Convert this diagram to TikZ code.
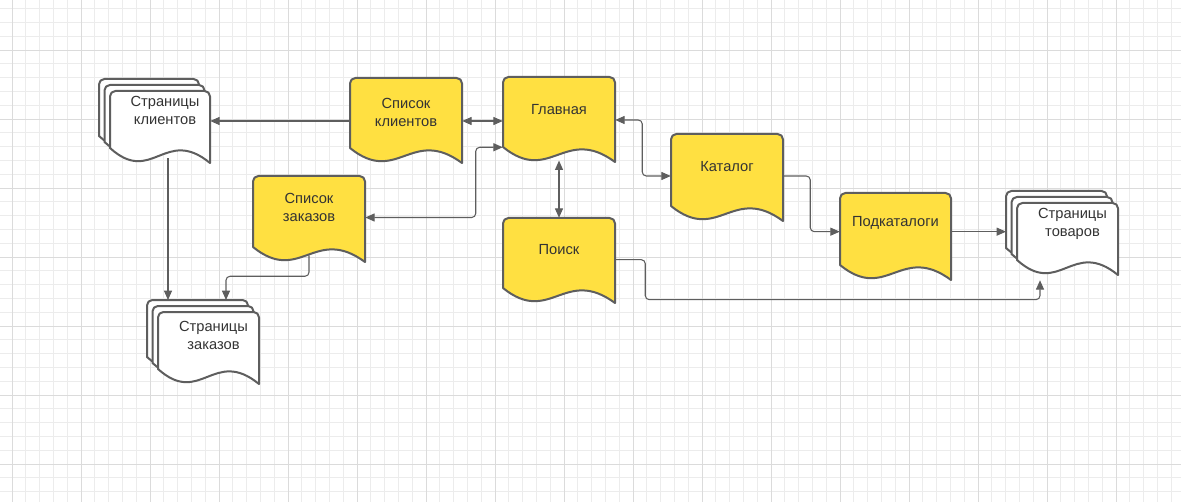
\documentclass[tikz,border=0pt]{standalone}
\usepackage{fontspec}
\setmainfont{Liberation Sans}
\usetikzlibrary{arrows.meta,calc}
\definecolor{yel}{HTML}{FFE041}
\definecolor{edge}{HTML}{5E5E5E}
\definecolor{txt}{HTML}{333333}
\tikzset{
  shp/.style={draw=edge,line width=1.5pt,line join=round},
  lbl/.style={inner sep=0pt,align=center,text=txt,font=\fontsize{11}{13.5}\selectfont},
  con/.style={draw=edge,line width=0.8pt,rounded corners=3pt},
  arr/.style={con,-{Triangle[length=7pt,width=6pt]}},
  biarr/.style={con,{Triangle[length=7pt,width=6pt]}-{Triangle[length=7pt,width=6pt]}},
}
% #1 fill, #2 x, #3 y, #4 w, #5 h
\newcommand\docpath[5]{%
  \path[shp,fill=#1] (#2,{#3+#5}) [rounded corners=4] -- (#2,#3) -- ({#2+#4},#3) [sharp corners] -- ({#2+#4},{#3+#5+15})
   .. controls ({#2+0.55*#4},{#3+#5-22}) and ({#2+0.42*#4},{#3+#5+38}) .. (#2,{#3+#5}) -- cycle;}
% #1 name #2 x #3 y #4 w #5 h #6 text #7 text y
\newcommand\docnode[7]{%
  \docpath{yel}{#2}{#3}{#4}{#5}%
  \node[lbl,minimum width={#4*0.75pt},minimum height={#5*0.75pt}] (#1) at ({#2+#4/2},{#3+#5/2}) {};
  \node[lbl] (#1t) at ({#2+#4/2},#7) {#6};}
\newcommand\stacknode[7]{%
  \coordinate (#1b) at ({#2-11},{#3-12});
  \docpath{white}{#2-11}{#3-12}{#4}{#5}%
  \docpath{white}{#2-5.5}{#3-6}{#4}{#5}%
  \docpath{white}{#2}{#3}{#4}{#5}%
  \node[lbl,minimum width={#4*0.75pt},minimum height={#5*0.75pt}] (#1) at ({#2+#4/2},{#3+#5/2}) {};
  \node[lbl] (#1t) at ({#2+#4/2+5},#7) {#6};}
\begin{document}
\begin{tikzpicture}[x=0.75pt,y=-0.75pt]
\fill[white] (0,0) rectangle (1181,502);
\useasboundingbox (0,0) rectangle (1181,502);
\foreach \i in {0,...,86}{\draw[gray!15,line width=0.5pt] ({12+13.8*\i},0) -- ({12+13.8*\i},502);}
\foreach \i in {0,...,37}{\draw[gray!15,line width=0.5pt] (0,{-19+13.8*\i}) -- (1181,{-19+13.8*\i});}
\foreach \i in {0,...,17}{\draw[gray!28,line width=0.6pt] ({12+69*\i},0) -- ({12+69*\i},502);}
\foreach \i in {0,...,7}{\draw[gray!28,line width=0.6pt] (0,{-19+69*\i}) -- (1181,{-19+69*\i});}

\docnode{skl}{350}{78}{112}{70}{Список\\клиентов}{112}
\docnode{gl}{503}{77}{112}{70}{Главная}{110}
\docnode{kat}{671}{134}{112}{72}{Каталог}{167}
\docnode{pk}{840}{193}{111}{72}{Подкаталоги}{223}
\docnode{po}{503}{218}{112}{70}{Поиск}{250}
\docnode{sz}{253}{176}{112}{71}{Список\\заказов}{207}
\stacknode{sc}{110}{91}{100}{57}{Страницы\\клиентов}{110}
\stacknode{szp}{158}{312}{101}{57}{Страницы\\заказов}{335}
\stacknode{st}{1017}{203}{101}{57}{Страницы\\товаров}{224}

\draw[arr] ([yshift=-6pt]skl.west) -- ([yshift=-6pt]skl.west -| sc.east);
\draw[biarr] ([yshift=-6pt]skl.east) -- ([yshift=-6pt]skl.east -| gl.west);
\draw[biarr] (gl.south west) -- ++(-27,0) |- ([yshift=-4.5pt]sz.east);
\draw[biarr] ([yshift=-10pt]gl.south) -- (po.north);
\draw[biarr] ([yshift=-6pt]gl.east) -- ++(27,0) |- ([yshift=-4.5pt]kat.west);
\draw[arr] ([yshift=-4.5pt]kat.east) -- ++(27,0) |- ([yshift=-2pt]pk.west);
\draw[arr] ([yshift=-2pt]pk.east) -- ([yshift=-2pt]pk.east -| stb);
\draw[arr] ([yshift=-5pt]po.east) -- ++(30,0) -- ++(0,40) -| ($(st.south)+(-27.5,20)$);
\draw[arr] ([xshift=6pt,yshift=-7.5pt]sc.south) -- ([xshift=6pt]sc.south |- szpb);
\draw[arr] ([yshift=-6pt]sz.south) -- ++(0,21) -| ($(szpb)+(79,0)$);
\end{tikzpicture}
\end{document}
